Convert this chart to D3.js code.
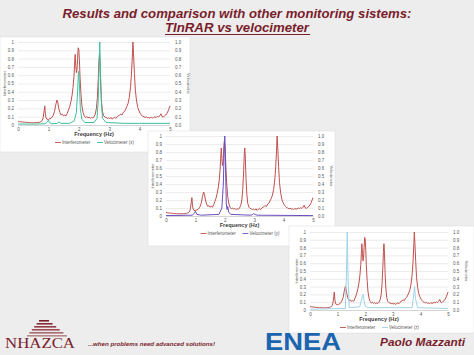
<!DOCTYPE html>
<html>
<head>
<meta charset="utf-8">
<script src="https://cdn.jsdelivr.net/npm/d3@7"></script>
<style>
  html, body { margin: 0; padding: 0; background: #ededed; }
  svg { display: block; font-family: 'Liberation Sans', Arial, sans-serif; }
</style>
</head>
<body>
<svg id="slide" width="474" height="355"></svg>
<script>
// spectrum data (frequency Hz, normalised amplitude)
const interferometer = [
  [0.00,0.045],[0.05,0.040],[0.10,0.038],[0.15,0.036],[0.20,0.034],[0.25,0.033],[0.30,0.031],[0.35,0.030],
  [0.40,0.029],[0.45,0.028],[0.50,0.027],[0.55,0.028],[0.60,0.030],[0.65,0.029],[0.70,0.033],[0.75,0.040],
  [0.80,0.055],[0.83,0.09],[0.86,0.17],[0.88,0.23],[0.90,0.14],[0.92,0.09],[0.95,0.07],[1.00,0.068],
  [1.05,0.075],[1.10,0.085],[1.15,0.11],[1.20,0.16],[1.24,0.24],[1.28,0.30],[1.31,0.27],[1.34,0.20],
  [1.38,0.15],[1.42,0.12],[1.46,0.13],[1.50,0.11],[1.54,0.12],[1.58,0.11],[1.62,0.14],[1.66,0.18],
  [1.70,0.22],[1.74,0.28],[1.78,0.36],[1.81,0.45],[1.84,0.58],[1.86,0.72],[1.88,0.85],[1.90,0.72],
  [1.92,0.63],[1.94,0.66],[1.96,0.80],[1.98,0.93],[2.00,0.91],[2.02,0.78],[2.04,0.58],[2.07,0.38],
  [2.10,0.24],[2.14,0.15],[2.18,0.11],[2.22,0.09],[2.26,0.10],[2.30,0.085],[2.34,0.095],[2.38,0.08],
  [2.42,0.09],[2.46,0.085],[2.50,0.10],[2.54,0.13],[2.58,0.20],[2.61,0.33],[2.64,0.55],[2.66,0.75],
  [2.68,0.85],[2.70,0.72],[2.72,0.48],[2.75,0.27],[2.78,0.16],[2.82,0.11],[2.86,0.095],[2.90,0.09],
  [2.94,0.08],[2.98,0.085],[3.02,0.075],[3.06,0.09],[3.10,0.07],[3.14,0.085],[3.18,0.09],[3.22,0.08],
  [3.26,0.10],[3.30,0.11],[3.34,0.12],[3.38,0.13],[3.42,0.12],[3.46,0.15],[3.50,0.16],[3.54,0.19],
  [3.58,0.22],[3.62,0.26],[3.66,0.33],[3.70,0.45],[3.73,0.60],[3.76,0.82],[3.78,1.00],[3.80,0.86],
  [3.83,0.62],[3.86,0.42],[3.90,0.29],[3.94,0.21],[3.98,0.17],[4.02,0.14],[4.06,0.12],[4.10,0.105],
  [4.14,0.10],[4.18,0.09],[4.22,0.10],[4.26,0.085],[4.30,0.09],[4.34,0.08],[4.38,0.095],[4.42,0.085],
  [4.46,0.09],[4.50,0.10],[4.54,0.09],[4.58,0.105],[4.62,0.095],[4.66,0.11],[4.70,0.135],[4.74,0.10],
  [4.78,0.095],[4.82,0.11],[4.86,0.12],[4.90,0.14],[4.94,0.17],[4.97,0.20],[5.00,0.23]
]

const velocimeterX = [
  [0.00,0.012],[0.50,0.010],[0.90,0.015],[0.97,0.04],[1.00,0.06],[1.03,0.03],[1.10,0.015],[1.30,0.02],
  [1.35,0.04],[1.40,0.02],[1.70,0.02],[1.85,0.05],[1.92,0.15],[1.96,0.40],[1.99,0.65],[2.02,0.50],
  [2.05,0.20],[2.10,0.07],[2.20,0.03],[2.50,0.03],[2.60,0.08],[2.64,0.30],[2.67,0.75],[2.69,1.00],
  [2.71,0.70],[2.74,0.30],[2.78,0.08],[2.90,0.03],[3.50,0.02],[4.00,0.02],[5.00,0.02]
]

const velocimeterY = [
  [0.00,0.005],[0.90,0.010],[0.97,0.04],[1.00,0.06],[1.05,0.02],[1.20,0.01],[1.80,0.02],[1.90,0.10],
  [1.95,0.40],[1.98,0.85],[2.00,1.00],[2.02,0.70],[2.05,0.15],[2.08,0.08],[2.10,0.12],[2.13,0.05],
  [2.20,0.02],[2.90,0.01],[2.98,0.03],[3.02,0.02],[3.10,0.01],[5.00,0.005]
]

const velocimeterZ = [
  [0.00,0.010],[1.28,0.02],[1.32,0.45],[1.35,1.00],[1.38,0.40],[1.42,0.03],[1.80,0.04],[1.88,0.15],
  [1.92,0.20],[1.96,0.12],[2.00,0.05],[2.10,0.03],[3.70,0.03],[3.76,0.20],[3.79,0.30],[3.82,0.15],
  [3.90,0.03],[5.00,0.02]
]

const xTicks = [0, 1, 2, 3, 4, 5]
const yTicks = [0, 0.1, 0.2, 0.3, 0.4, 0.5, 0.6, 0.7, 0.8, 0.9, 1]

const titleLines = ['Results and comparison with other monitoring sistems:', 'TInRAR vs velocimeter']

const panels = [
  { box: { x: 0, y: 37, w: 190, h: 115 }, plot: { left: 18, right: 170, top: 42, bottom: 125 },
    vel: velocimeterX, velName: 'Velocimeter (x)', velColor: '#3dbf9c' },
  { box: { x: 148, y: 131, w: 187, h: 115 }, plot: { left: 166, right: 313, top: 136, bottom: 216 },
    vel: velocimeterY, velName: 'Velocimeter (y)', velColor: '#6b4fc0' },
  { box: { x: 289, y: 226, w: 185, h: 107 }, plot: { left: 310, right: 448, top: 232, bottom: 310 },
    vel: velocimeterZ, velName: 'Velocimeter (z)', velColor: '#9fd3e8' }
]

const RED = '#c0504d'
const MAROON = '#7a1d2b'

const svg = d3.select('#slide')

svg.append('rect').attr('width', 474).attr('height', 355).attr('fill', '#ededed')

// title
svg.append('text')
  .attr('x', 237).attr('y', 18)
  .attr('text-anchor', 'middle')
  .attr('textLength', 349).attr('lengthAdjust', 'spacingAndGlyphs')
  .style('font', 'italic bold 13px "Liberation Sans", Arial, sans-serif')
  .attr('fill', MAROON)
  .text(titleLines[0])

svg.append('text')
  .attr('x', 237).attr('y', 32)
  .attr('text-anchor', 'middle')
  .attr('textLength', 144).attr('lengthAdjust', 'spacingAndGlyphs')
  .style('font', 'italic bold 13px "Liberation Sans", Arial, sans-serif')
  .attr('fill', MAROON)
  .text(titleLines[1])

svg.append('line')
  .attr('x1', 165).attr('x2', 310).attr('y1', 34.5).attr('y2', 34.5)
  .attr('stroke', MAROON).attr('stroke-width', 1)

const drawPanel = (p) => {
  const { box, plot } = p
  const g = svg.append('g')

  g.append('rect')
    .attr('x', box.x).attr('y', box.y).attr('width', box.w).attr('height', box.h)
    .attr('fill', '#ffffff').attr('stroke', '#dcdcdc').attr('stroke-width', 0.5)

  const xScale = d3.scaleLinear().domain([0, 5]).range([plot.left, plot.right])
  const yScale = d3.scaleLinear().domain([0, 1]).range([plot.bottom, plot.top])
  const plotW = plot.right - plot.left

  // gridlines + left labels
  const axisL = d3.axisLeft(yScale)
    .tickValues(yTicks)
    .tickSize(-plotW)
    .tickPadding(4)
    .tickFormat((d) => (d === 0 || d === 1 ? String(d) : d3.format('.1f')(d)))

  const gl = g.append('g')
    .attr('transform', `translate(${plot.left},0)`)
    .call(axisL)
  gl.select('.domain').remove()
  gl.selectAll('line').attr('stroke', '#d9d9d9').attr('stroke-width', 0.5)
  gl.selectAll('text').attr('fill', '#595959').style('font-size', '4.5px')

  const axisR = d3.axisRight(yScale)
    .tickValues(yTicks)
    .tickSize(0)
    .tickPadding(5)
    .tickFormat(d3.format('.1f'))
  const gr = g.append('g')
    .attr('transform', `translate(${plot.right},0)`)
    .call(axisR)
  gr.select('.domain').remove()
  gr.selectAll('text').attr('fill', '#595959').style('font-size', '4.5px')

  const axisB = d3.axisBottom(xScale)
    .tickValues(xTicks)
    .tickSize(0)
    .tickPadding(3)
    .tickFormat(d3.format('d'))
  const gb = g.append('g')
    .attr('transform', `translate(0,${plot.bottom})`)
    .call(axisB)
  gb.select('.domain').attr('stroke', '#bfbfbf').attr('stroke-width', 0.5)
  gb.selectAll('text').attr('fill', '#595959').style('font-size', '4.5px')

  const line = d3.line()
    .x((d) => xScale(d[0]))
    .y((d) => yScale(d[1]))

  g.append('path')
    .datum(interferometer)
    .attr('d', line)
    .attr('fill', 'none')
    .attr('stroke', RED)
    .attr('stroke-width', 1)
    .attr('stroke-linejoin', 'round')

  g.append('path')
    .datum(p.vel)
    .attr('d', line)
    .attr('fill', 'none')
    .attr('stroke', p.velColor)
    .attr('stroke-width', 1)
    .attr('stroke-linejoin', 'round')

  const midX = (plot.left + plot.right) / 2
  const midY = (plot.top + plot.bottom) / 2

  g.append('text')
    .attr('x', midX).attr('y', plot.bottom + 11)
    .attr('text-anchor', 'middle')
    .attr('fill', '#404040')
    .style('font', 'bold 5.5px "Liberation Sans", Arial, sans-serif')
    .text('Frequency (Hz)')

  g.append('text')
    .attr('transform', `translate(${plot.left - 12},${midY}) rotate(-90)`)
    .attr('text-anchor', 'middle')
    .attr('fill', '#595959')
    .style('font-size', '4px')
    .text('Interferometer')

  g.append('text')
    .attr('transform', `translate(${plot.right + 17},${midY}) rotate(90)`)
    .attr('text-anchor', 'middle')
    .attr('fill', '#595959')
    .style('font-size', '4px')
    .text('Velocimeter')

  // legend
  const ly = plot.bottom + 19
  const items = [
    { name: 'Interferometer', color: RED },
    { name: p.velName, color: p.velColor }
  ]
  const lg = g.append('g').attr('transform', `translate(${midX - 39},${ly})`)
  const itemW = 42
  items.forEach((it, i) => {
    const ig = lg.append('g').attr('transform', `translate(${i * itemW},0)`)
    ig.append('line')
      .attr('x1', 0).attr('x2', 6).attr('y1', -1.5).attr('y2', -1.5)
      .attr('stroke', it.color).attr('stroke-width', 0.9)
    ig.append('text')
      .attr('x', 7).attr('y', 0)
      .attr('fill', '#595959')
      .style('font-size', '4.5px')
      .text(it.name)
  })
}

panels.forEach(drawPanel)

// footer: NHAZCA logo
const stripes = [
  { w: 10, c: '#7a1d2b' }, { w: 16, c: '#862c38' }, { w: 22, c: '#933c46' },
  { w: 28, c: '#9e5058' }, { w: 34, c: '#aa6a70' }, { w: 40, c: '#b8888c' }
]
stripes.forEach((s, i) => {
  svg.append('rect')
    .attr('x', 44 - s.w / 2 + i * 0.6).attr('y', 320 + i * 3)
    .attr('width', s.w).attr('height', 1.6)
    .attr('fill', s.c)
})

svg.append('text')
  .attr('x', 5).attr('y', 348)
  .attr('textLength', 70).attr('lengthAdjust', 'spacingAndGlyphs')
  .style('font', '15px "Liberation Serif", "DejaVu Serif", serif')
  .attr('fill', MAROON)
  .text('NHAZCA')

svg.append('text')
  .attr('x', 88).attr('y', 346)
  .attr('textLength', 127).attr('lengthAdjust', 'spacingAndGlyphs')
  .style('font', 'italic bold 5.5px "Liberation Sans", Arial, sans-serif')
  .attr('fill', MAROON)
  .text('...when problems need advanced solutions!')

// ENEA logo
svg.append('text')
  .attr('x', 265).attr('y', 350)
  .attr('textLength', 76).attr('lengthAdjust', 'spacingAndGlyphs')
  .style('font', 'bold 23px "Liberation Sans", Arial, sans-serif')
  .attr('fill', '#1b64b0')
  .text('ENEA')

svg.append('text')
  .attr('x', 380).attr('y', 346)
  .attr('textLength', 85).attr('lengthAdjust', 'spacingAndGlyphs')
  .style('font', 'italic bold 11px "Liberation Sans", Arial, sans-serif')
  .attr('fill', MAROON)
  .text('Paolo Mazzanti')
</script>
</body>
</html>
